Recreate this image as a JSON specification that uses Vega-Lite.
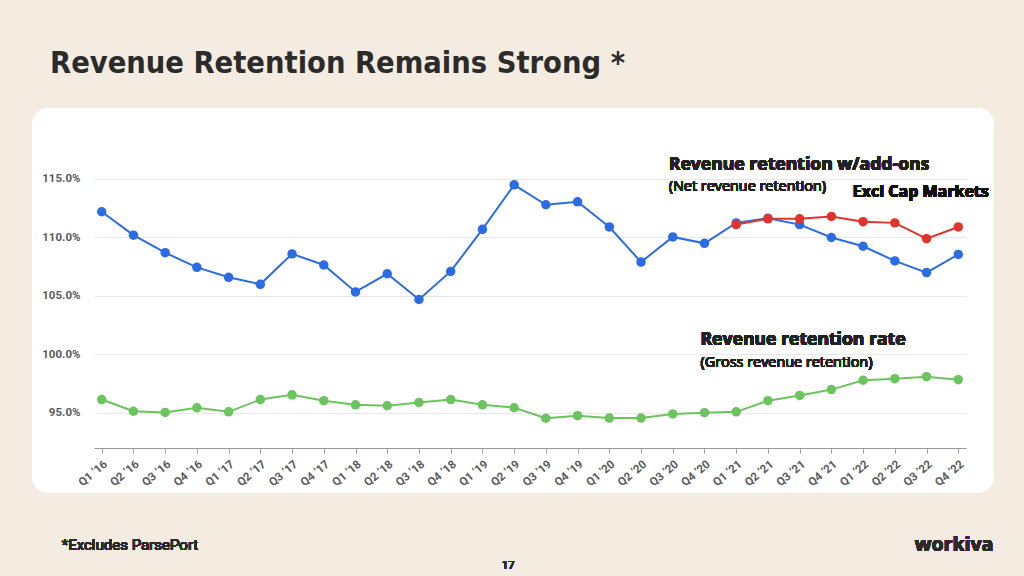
{
  "$schema": "https://vega.github.io/schema/vega-lite/v6.json",
  "width": 962,
  "height": 385,
  "autosize": "none",
  "padding": {"left": 32, "top": 108, "right": 30, "bottom": 83},
  "background": "#F5ECE1",
  "title": {
    "text": "Revenue Retention Remains Strong *",
    "anchor": "start",
    "dx": 18,
    "offset": 5,
    "baseline": "alphabetic",
    "font": "DejaVu Sans Condensed",
    "fontSize": 30.5,
    "fontWeight": "bold",
    "color": "#2B2B2B"
  },
  "config": {
    "view": {"fill": "white", "stroke": null, "cornerRadius": 16}
  },
  "data": {
    "values": [
      {"q": "Q1 ’16", "series": "Net", "v": 112.2},
      {"q": "Q2 ’16", "series": "Net", "v": 110.2},
      {"q": "Q3 ’16", "series": "Net", "v": 108.7},
      {"q": "Q4 ’16", "series": "Net", "v": 107.45},
      {"q": "Q1 ’17", "series": "Net", "v": 106.6},
      {"q": "Q2 ’17", "series": "Net", "v": 106.0},
      {"q": "Q3 ’17", "series": "Net", "v": 108.6},
      {"q": "Q4 ’17", "series": "Net", "v": 107.65},
      {"q": "Q1 ’18", "series": "Net", "v": 105.35},
      {"q": "Q2 ’18", "series": "Net", "v": 106.9},
      {"q": "Q3 ’18", "series": "Net", "v": 104.7},
      {"q": "Q4 ’18", "series": "Net", "v": 107.1},
      {"q": "Q1 ’19", "series": "Net", "v": 110.7},
      {"q": "Q2 ’19", "series": "Net", "v": 114.5},
      {"q": "Q3 ’19", "series": "Net", "v": 112.8},
      {"q": "Q4 ’19", "series": "Net", "v": 113.05},
      {"q": "Q1 ’20", "series": "Net", "v": 110.9},
      {"q": "Q2 ’20", "series": "Net", "v": 107.9},
      {"q": "Q3 ’20", "series": "Net", "v": 110.05},
      {"q": "Q4 ’20", "series": "Net", "v": 109.5},
      {"q": "Q1 ’21", "series": "Net", "v": 111.25},
      {"q": "Q2 ’21", "series": "Net", "v": 111.65},
      {"q": "Q3 ’21", "series": "Net", "v": 111.1},
      {"q": "Q4 ’21", "series": "Net", "v": 110.0},
      {"q": "Q1 ’22", "series": "Net", "v": 109.25},
      {"q": "Q2 ’22", "series": "Net", "v": 108.0},
      {"q": "Q3 ’22", "series": "Net", "v": 107.0},
      {"q": "Q4 ’22", "series": "Net", "v": 108.55},
      {"q": "Q1 ’21", "series": "Excl", "v": 111.1},
      {"q": "Q2 ’21", "series": "Excl", "v": 111.6},
      {"q": "Q3 ’21", "series": "Excl", "v": 111.6},
      {"q": "Q4 ’21", "series": "Excl", "v": 111.8},
      {"q": "Q1 ’22", "series": "Excl", "v": 111.35},
      {"q": "Q2 ’22", "series": "Excl", "v": 111.25},
      {"q": "Q3 ’22", "series": "Excl", "v": 109.9},
      {"q": "Q4 ’22", "series": "Excl", "v": 110.9},
      {"q": "Q1 ’16", "series": "Gross", "v": 96.15},
      {"q": "Q2 ’16", "series": "Gross", "v": 95.15},
      {"q": "Q3 ’16", "series": "Gross", "v": 95.05},
      {"q": "Q4 ’16", "series": "Gross", "v": 95.45},
      {"q": "Q1 ’17", "series": "Gross", "v": 95.1},
      {"q": "Q2 ’17", "series": "Gross", "v": 96.15},
      {"q": "Q3 ’17", "series": "Gross", "v": 96.55},
      {"q": "Q4 ’17", "series": "Gross", "v": 96.05},
      {"q": "Q1 ’18", "series": "Gross", "v": 95.7},
      {"q": "Q2 ’18", "series": "Gross", "v": 95.62},
      {"q": "Q3 ’18", "series": "Gross", "v": 95.9},
      {"q": "Q4 ’18", "series": "Gross", "v": 96.15},
      {"q": "Q1 ’19", "series": "Gross", "v": 95.7},
      {"q": "Q2 ’19", "series": "Gross", "v": 95.45},
      {"q": "Q3 ’19", "series": "Gross", "v": 94.55},
      {"q": "Q4 ’19", "series": "Gross", "v": 94.77},
      {"q": "Q1 ’20", "series": "Gross", "v": 94.57},
      {"q": "Q2 ’20", "series": "Gross", "v": 94.57},
      {"q": "Q3 ’20", "series": "Gross", "v": 94.92},
      {"q": "Q4 ’20", "series": "Gross", "v": 95.03},
      {"q": "Q1 ’21", "series": "Gross", "v": 95.1},
      {"q": "Q2 ’21", "series": "Gross", "v": 96.05},
      {"q": "Q3 ’21", "series": "Gross", "v": 96.5},
      {"q": "Q4 ’21", "series": "Gross", "v": 97.0},
      {"q": "Q1 ’22", "series": "Gross", "v": 97.8},
      {"q": "Q2 ’22", "series": "Gross", "v": 97.93},
      {"q": "Q3 ’22", "series": "Gross", "v": 98.1},
      {"q": "Q4 ’22", "series": "Gross", "v": 97.85}
    ]
  },
  "layer": [
    {
      "mark": {"type": "line", "strokeWidth": 2},
      "encoding": {
        "x": {
          "field": "q", "type": "ordinal", "sort": null,
          "scale": {"type": "point", "range": [62, 934], "padding": 0.243},
          "axis": {
            "title": null, "offset": -45, "domainColor": "#9A9A9A", "domainWidth": 1,
            "tickColor": "#9A9A9A", "tickSize": 5, "labelAngle": -40, "labelAlign": "right",
            "labelBaseline": "top", "labelPadding": 5, "labelFont": "Roboto", "labelFontSize": 11.5,
            "labelFontWeight": "bold", "labelColor": "#5A5A5A", "grid": false
          }
        },
        "y": {
          "field": "v", "type": "quantitative",
          "scale": {"domain": [88.162, 121.068], "nice": false, "zero": false},
          "axis": {
            "title": null, "offset": -62, "domain": false, "ticks": false,
            "values": [95, 100, 105, 110, 115],
            "labelExpr": "format(datum.value, '.1f') + '%'",
            "labelPadding": 14, "labelFont": "Roboto", "labelFontSize": 11.5,
            "labelFontWeight": "bold", "labelColor": "#5A5A5A",
            "gridColor": "#E8E8E8", "gridWidth": 1
          }
        },
        "color": {
          "field": "series", "type": "nominal", "legend": null,
          "scale": {"domain": ["Net", "Excl", "Gross"], "range": ["#2B6CE2", "#E0342A", "#6CC45E"]}
        }
      }
    },
    {
      "mark": {"type": "point", "filled": true, "opacity": 1},
      "encoding": {
        "x": {"field": "q", "type": "ordinal", "sort": null},
        "y": {"field": "v", "type": "quantitative"},
        "color": {"field": "series", "type": "nominal", "legend": null},
        "size": {
          "field": "series", "type": "nominal", "legend": null,
          "scale": {"domain": ["Net", "Excl", "Gross"], "range": [90, 90, 70]}
        }
      }
    },
    {
      "mark": {"type": "text", "align": "left", "baseline": "alphabetic", "font": "Open Sans", "fontSize": 17.6, "fontWeight": "bold", "color": "#222222", "dx": -4},
      "encoding": {"x": {"datum": "Q3 ’20"}, "y": {"datum": 115.8}, "text": {"value": "Revenue retention w/add-ons"}}
    },
    {
      "mark": {"type": "text", "align": "left", "baseline": "alphabetic", "font": "Open Sans", "fontSize": 14.4, "color": "#222222", "dx": -4},
      "encoding": {"x": {"datum": "Q3 ’20"}, "y": {"datum": 113.97}, "text": {"value": "(Net revenue retention)"}}
    },
    {
      "mark": {"type": "text", "align": "left", "baseline": "alphabetic", "font": "Open Sans", "fontSize": 16, "fontWeight": "bold", "color": "#111111", "dx": -42},
      "encoding": {"x": {"datum": "Q2 ’22"}, "y": {"datum": 113.46}, "text": {"value": "Excl Cap Markets"}}
    },
    {
      "mark": {"type": "text", "align": "left", "baseline": "alphabetic", "font": "Open Sans", "fontSize": 17.6, "fontWeight": "bold", "color": "#222222", "dx": -4},
      "encoding": {"x": {"datum": "Q4 ’20"}, "y": {"datum": 100.81}, "text": {"value": "Revenue retention rate"}}
    },
    {
      "mark": {"type": "text", "align": "left", "baseline": "alphabetic", "font": "Open Sans", "fontSize": 14.4, "color": "#222222", "dx": -4},
      "encoding": {"x": {"datum": "Q4 ’20"}, "y": {"datum": 98.93}, "text": {"value": "(Gross revenue retention)"}}
    },
    {
      "mark": {"type": "text", "align": "left", "baseline": "middle", "font": "Roboto", "fontSize": 15, "color": "#2B2B2B", "dx": -40},
      "encoding": {"x": {"datum": "Q1 ’16"}, "y": {"datum": 83.72}, "text": {"value": "*Excludes ParsePort"}}
    },
    {
      "mark": {"type": "text", "align": "center", "baseline": "middle", "font": "Roboto", "fontSize": 11, "color": "#2B2B2B", "dx": -6},
      "encoding": {"x": {"datum": "Q2 ’19"}, "y": {"datum": 81.92}, "text": {"value": "17"}}
    },
    {
      "mark": {"type": "text", "align": "left", "baseline": "middle", "font": "Open Sans", "fontSize": 19.5, "fontWeight": "bold", "color": "#2B2B2B", "dx": 20},
      "encoding": {"x": {"datum": "Q2 ’22"}, "y": {"datum": 83.72}, "text": {"value": "workiva"}}
    }
  ]
}
